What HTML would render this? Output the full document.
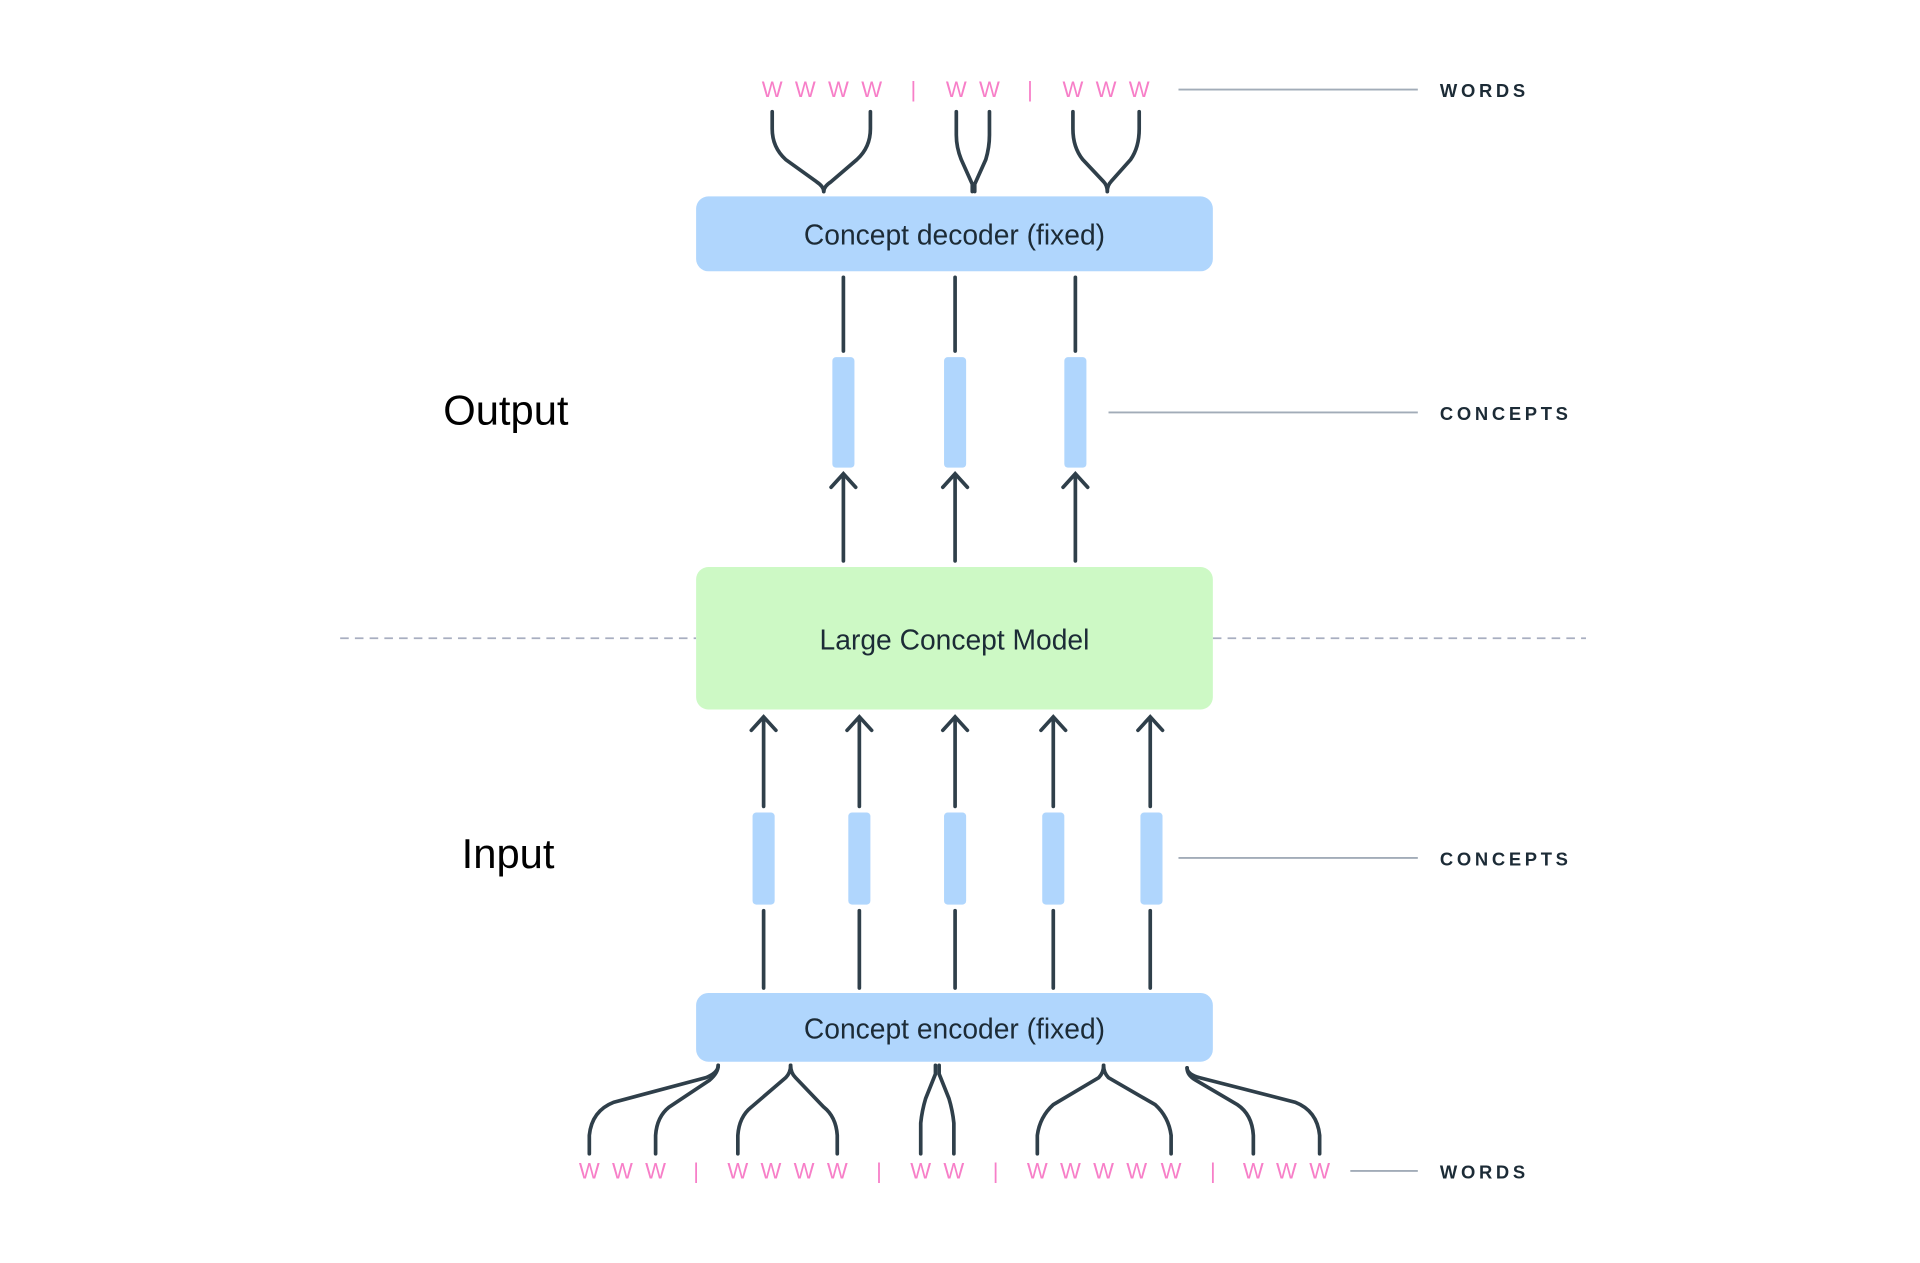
<!DOCTYPE html>
<html><head><meta charset="utf-8"><style>
html,body{margin:0;padding:0;background:#fff;}
svg{display:block;}
text{font-family:"Liberation Sans",sans-serif;}
</style></head><body>
<svg width="1920" height="1263" viewBox="0 0 1564 1029" xmlns="http://www.w3.org/2000/svg">
<rect width="1564" height="1029" fill="#fff"/>
<g fill="#f77fc8" font-size="18" text-anchor="middle">
<text x="629" y="79">W</text><text x="656" y="79">W</text><text x="683" y="79">W</text><text x="710" y="79">W</text>
<text x="744" y="79">|</text>
<text x="779" y="79">W</text><text x="806" y="79">W</text>
<text x="839" y="79">|</text>
<text x="874" y="79">W</text><text x="901" y="79">W</text><text x="928" y="79">W</text>
</g>
<g stroke="#a2acb8" stroke-width="1.5">
<line x1="960" y1="73" x2="1155" y2="73"/>
<line x1="903" y1="336" x2="1155" y2="336"/>
<line x1="960" y1="699" x2="1155" y2="699"/>
<line x1="1100" y1="954" x2="1155" y2="954"/>
</g>
<g fill="#1c2b36" font-size="15" font-weight="bold" letter-spacing="3">
<text x="1173" y="79">WORDS</text>
<text x="1173" y="342">CONCEPTS</text>
<text x="1173" y="705">CONCEPTS</text>
<text x="1173" y="960">WORDS</text>
</g>
<g fill="none" stroke="#2f3f4a" stroke-width="3" stroke-linecap="round">
<path d="M629 91 V105 Q629 120 640 130 L665 148 Q671 152 671 156"/>
<path d="M709 91 V105 Q709 120 698 130 L677 148 Q671 152 671 156"/>
<path d="M779 91 V110 Q779 120 783 130 L792 150 V156"/>
<path d="M806 91 V110 Q806 120 803 130 L794 150 V156"/>
<path d="M874 91 V105 Q874 120 882 130 L899 148 Q902 151 902 156"/>
<path d="M928 91 V105 Q928 120 921 130 L905 148 Q902 151 902 156"/>
<line x1="687" y1="226" x2="687" y2="286"/>
<line x1="778" y1="226" x2="778" y2="286"/>
<line x1="876" y1="226" x2="876" y2="286"/>
<line x1="687" y1="457" x2="687" y2="387"/><path d="M677 397 L687 386 L697 397"/>
<line x1="778" y1="457" x2="778" y2="387"/><path d="M768 397 L778 386 L788 397"/>
<line x1="876" y1="457" x2="876" y2="387"/><path d="M866 397 L876 386 L886 397"/>
<line x1="622" y1="657" x2="622" y2="585"/><path d="M612 595 L622 584 L632 595"/>
<line x1="700" y1="657" x2="700" y2="585"/><path d="M690 595 L700 584 L710 595"/>
<line x1="778" y1="657" x2="778" y2="585"/><path d="M768 595 L778 584 L788 595"/>
<line x1="858" y1="657" x2="858" y2="585"/><path d="M848 595 L858 584 L868 595"/>
<line x1="937" y1="657" x2="937" y2="585"/><path d="M927 595 L937 584 L947 595"/>
<line x1="622" y1="742" x2="622" y2="805"/>
<line x1="700" y1="742" x2="700" y2="805"/>
<line x1="778" y1="742" x2="778" y2="805"/>
<line x1="858" y1="742" x2="858" y2="805"/>
<line x1="937" y1="742" x2="937" y2="805"/>
<path d="M480 940 V925 Q482 905 500 898 L575 878 Q585 874 585 868"/>
<path d="M534 940 V925 Q535 910 545 902 L578 880 Q585 874 585 868"/>
<path d="M601 940 V925 Q602 910 612 902 L640 878 Q644 874 644 868"/>
<path d="M682 940 V925 Q681 910 671 902 L648 878 Q644 874 644 868"/>
<path d="M750 940 V915 Q751 905 754 895 L762 875 V868"/>
<path d="M777 940 V915 Q776 905 773 895 L765 875 V868"/>
<path d="M845 940 V925 Q847 910 858 900 L895 878 Q899 874 899 868"/>
<path d="M954 940 V925 Q952 910 941 900 L903 878 Q899 874 899 868"/>
<path d="M1021 940 V925 Q1020 908 1008 900 L974 880 Q967 876 967 870"/>
<path d="M1075 940 V925 Q1073 905 1055 898 L977 878 Q967 875 967 870"/>
</g>
<rect x="567" y="160" width="421" height="61" rx="10" fill="#b0d6fd"/>
<text x="777.5" y="199" font-size="23" text-anchor="middle" fill="#1c2b36">Concept decoder (fixed)</text>
<g fill="#b0d6fd">
<rect x="678" y="291" width="18" height="90" rx="3"/>
<rect x="769" y="291" width="18" height="90" rx="3"/>
<rect x="867" y="291" width="18" height="90" rx="3"/>
<rect x="613" y="662" width="18" height="75" rx="3"/>
<rect x="691" y="662" width="18" height="75" rx="3"/>
<rect x="769" y="662" width="18" height="75" rx="3"/>
<rect x="849" y="662" width="18" height="75" rx="3"/>
<rect x="929" y="662" width="18" height="75" rx="3"/>
</g>
<text x="361" y="346" font-size="34" fill="#000">Output</text>
<text x="376" y="707" font-size="34" fill="#000">Input</text>
<line x1="277" y1="520" x2="567" y2="520" stroke="#a8aec0" stroke-width="1.5" stroke-dasharray="7,5"/>
<line x1="988" y1="520" x2="1292" y2="520" stroke="#a8aec0" stroke-width="1.5" stroke-dasharray="7,5"/>
<rect x="567" y="462" width="421" height="116" rx="10" fill="#cdf9c5"/>
<text x="777.5" y="529" font-size="23" text-anchor="middle" fill="#1c2b36">Large Concept Model</text>
<rect x="567" y="809" width="421" height="56" rx="10" fill="#b0d6fd"/>
<text x="777.5" y="846" font-size="23" text-anchor="middle" fill="#1c2b36">Concept encoder (fixed)</text>
<g fill="#f77fc8" font-size="18" text-anchor="middle">
<text x="480" y="960">W</text><text x="507" y="960">W</text><text x="534" y="960">W</text>
<text x="567" y="960">|</text>
<text x="601" y="960">W</text><text x="628" y="960">W</text><text x="655" y="960">W</text><text x="682" y="960">W</text>
<text x="716" y="960">|</text>
<text x="750" y="960">W</text><text x="777" y="960">W</text>
<text x="811" y="960">|</text>
<text x="845" y="960">W</text><text x="872" y="960">W</text><text x="899" y="960">W</text><text x="926" y="960">W</text><text x="954" y="960">W</text>
<text x="988" y="960">|</text>
<text x="1021" y="960">W</text><text x="1048" y="960">W</text><text x="1075" y="960">W</text>
</g>
</svg>
</body></html>
